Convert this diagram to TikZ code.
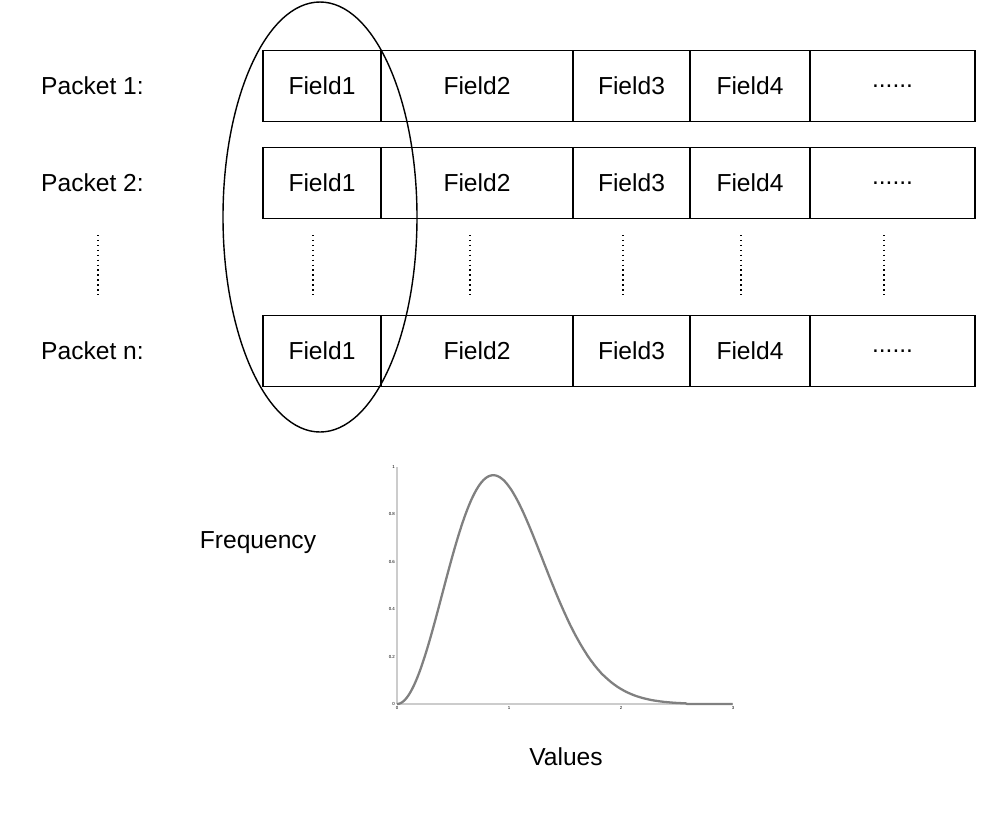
\documentclass[tikz,border=0pt]{standalone}
\usepackage{fontspec}
\setmainfont{Liberation Sans}
\begin{document}
\begin{tikzpicture}[x=0.02cm,y=-0.02cm,
  field/.style={draw,thick,minimum height=1.42cm,inner sep=0pt,font=\fontsize{14}{16}\selectfont},
  lbl/.style={font=\fontsize{14}{16}\selectfont},
  tick/.style={font=\fontsize{2.5}{3}\selectfont,inner sep=1pt}]
   \useasboundingbox (0,0) rectangle (995,816);
   % packet rows
   \foreach \r/\y/\t in {1/86/1, 2/183/2, 3/351/n} {
    \node[lbl,anchor=west] (p\r) at (35,\y) {Packet \t:};
    \node[field,minimum width=2.36cm] (f\r1) at (322,\y) {Field1};
    \node[field,minimum width=3.84cm] (f\r2) at (477,\y) {Field2};
    \node[field,minimum width=2.34cm] (f\r3) at (631.5,\y) {Field3};
    \node[field,minimum width=2.40cm] (f\r4) at (750,\y) {Field4};
    \node[field,minimum width=3.30cm] (f\r5) at (892.5,\y) {......};
   }
   % vertical dots
   \foreach \x in {98,313,470,623,741,884}
    \draw[thick,dotted] (\x,235) -- (\x,297);
   % selection ellipse
   \draw[thick] (320,217) ellipse [x radius=97, y radius=215];
   % distribution plot
   \coordinate (o) at (397,704);
   \draw[gray!40,thick] (o) -- (733,704);
   \draw[gray!40,thick] (o) -- (397,467);
   \foreach \v/\l in {0/0,0.2/0.2,0.4/0.4,0.6/0.6,0.8/0.8,1/1}
    \node[tick,anchor=east] at (397,704-237*\v) {\l};
   \foreach \v in {0,1,2,3}
    \node[tick,anchor=north] at (397+112*\v,704) {\v};
   \draw[gray,line width=1.3pt,domain=0:3,samples=200,smooth,variable=\x]
    plot({397+112*\x},{704-237*0.7979*\x*\x*exp(-\x*\x/0.7393)/0.2248});
   \node[lbl] (freq) at (258,543) {Frequency};
   \node[lbl] (vals) at (566,757) {Values};
  \end{tikzpicture}
\end{document}
